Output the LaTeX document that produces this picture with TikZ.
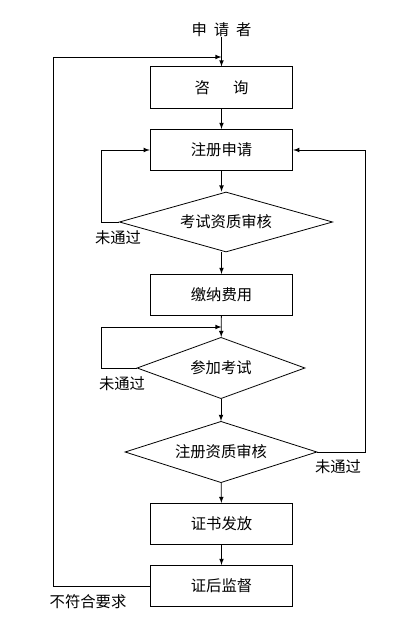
\documentclass[tikz,border=0pt]{standalone}
\usepackage{fontspec}
\setmainfont{Noto Sans CJK SC}
\usepackage{tikz}
\usetikzlibrary{shapes.geometric}

\begin{document}
\begin{tikzpicture}[x=0.75pt, y=-0.75pt, >=latex, line width=0.6pt,
  font=\fontsize{11.5}{13}\selectfont,
  box/.style={rectangle, draw=black, minimum width=107pt, minimum height=31pt, inner sep=0pt},
  check/.style={diamond, draw=black, inner sep=0pt, aspect=3.5},
  lbl/.style={inner sep=0pt}]

\useasboundingbox (0,0) rectangle (412,630);

\node[lbl] (appl) at (221.5,30) {申\hspace{0.45em}请\hspace{0.45em}者};
\node[box] (zx) at (221.5,87.5) {咨\hspace{1.5em}询};
\node[box] (zc) at (221.5,150) {注册申请};
\node[check, minimum width=160pt, minimum height=45pt] (d1) at (226,222) {考试资质审核};
\node[box] (jn) at (221.5,295) {缴纳费用};
\node[check, minimum width=126pt, minimum height=46pt] (d2) at (221,368) {参加考试};
\node[check, minimum width=144pt, minimum height=46pt] (d3) at (221,452) {注册资质审核};
\node[box] (zs) at (221.5,524) {证书发放};
\node[box] (jd) at (221.5,586) {证后监督};

\coordinate (m1) at (221.5,57);
\coordinate (m2) at (221.5,327);

\draw[->] (appl) -- (zx);
\draw[->] (zx) -- (zc);
\draw[->] (zc) -- (zc.south |- d1.north);
\draw[->] (d1.south -| jn) -- (jn);
\draw[->] (jn) -- (d2);
\draw[->] (d2) -- (d3);
\draw[->] (d3) -- (zs);
\draw[->] (zs) -- (jd);

% loops back
\draw[->] (d1.west) -- ++(-18,0) |- (zc.west);
\draw[->] (d2.west) -- ++(-35,0) |- (m2);
\draw[->] (d3.east) -- ++(48,0) |- (zc.east);
\draw[->] (jd.west) -- ++(-96.5,0) |- (m1);

\node[lbl] (no1) at (118,238) {未通过};
\node[lbl] (no2) at (122,384) {未通过};
\node[lbl] (no3) at (338,467) {未通过};
\node[lbl] (bad) at (88,602) {不符合要求};
\end{tikzpicture}
\end{document}
